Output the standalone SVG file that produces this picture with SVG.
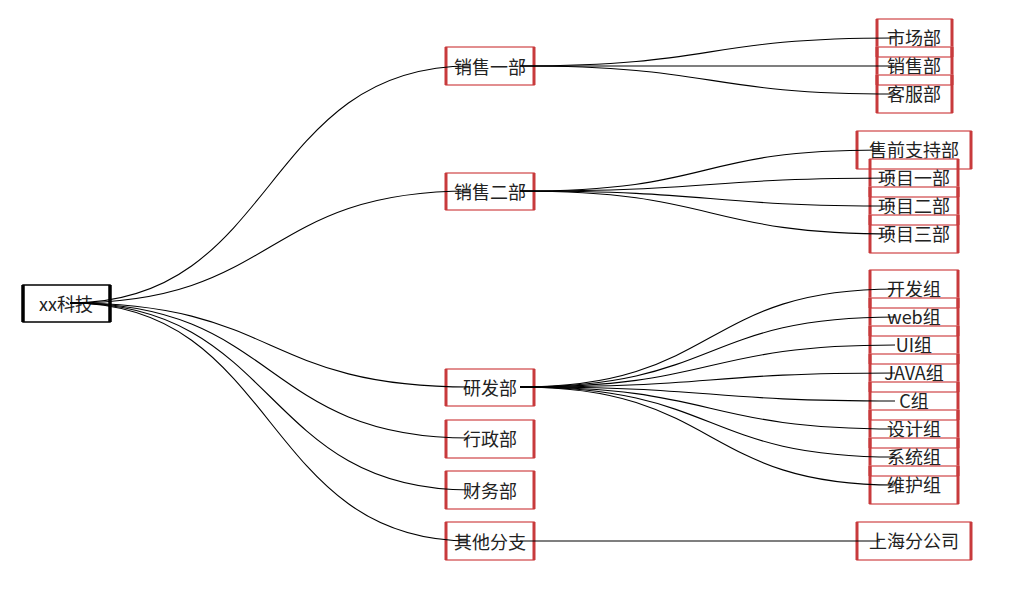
<svg xmlns="http://www.w3.org/2000/svg" width="1026" height="596" viewBox="0 0 1026 596">
<style>
.b{fill:none;stroke:#d9696b;stroke-width:1.5}
.s{stroke:#c83a3c;stroke-width:3}
.r{fill:none;stroke:#000;stroke-width:1.5}
.rs{stroke:#000;stroke-width:3.5}
text{font-family:"Noto Sans CJK SC","Noto Sans",sans-serif;font-size:18px;fill:#222;text-anchor:middle;dominant-baseline:central}
#links path{fill:none;stroke:#000;stroke-width:1.1}
</style>
<g id="root"><rect class="r" x="23" y="285" width="87" height="37"/><path class="rs" d="M23,285V322M110,285V322"/><text x="66" y="303">xx科技</text></g>
<g id="n1"><rect class="b" x="446" y="47" width="88" height="38"/><path class="s" d="M446,47V85M534,47V85"/><text x="490" y="66">销售一部</text></g>
<g id="n2"><rect class="b" x="446" y="173" width="88" height="37"/><path class="s" d="M446,173V210M534,173V210"/><text x="490" y="191">销售二部</text></g>
<g id="n3"><rect class="b" x="446" y="369" width="88" height="37"/><path class="s" d="M446,369V406M534,369V406"/><text x="490" y="387">研发部</text></g>
<g id="n4"><rect class="b" x="446" y="420" width="88" height="38"/><path class="s" d="M446,420V458M534,420V458"/><text x="490" y="438">行政部</text></g>
<g id="n5"><rect class="b" x="446" y="471" width="88" height="38"/><path class="s" d="M446,471V509M534,471V509"/><text x="490" y="490">财务部</text></g>
<g id="n6"><rect class="b" x="446" y="522" width="88" height="38"/><path class="s" d="M446,522V560M534,522V560"/><text x="490" y="541">其他分支</text></g>
<g id="l1"><rect class="b" x="877" y="19" width="75" height="38"/><path class="s" d="M877,19V57M952,19V57"/><text x="914" y="37">市场部</text></g>
<g id="l2"><rect class="b" x="877" y="47" width="75" height="38"/><path class="s" d="M877,47V85M952,47V85"/><text x="914" y="65">销售部</text></g>
<g id="l3"><rect class="b" x="877" y="75" width="75" height="38"/><path class="s" d="M877,75V113M952,75V113"/><text x="914" y="93">客服部</text></g>
<g id="l4"><rect class="b" x="857" y="131" width="114" height="38"/><path class="s" d="M857,131V169M971,131V169"/><text x="914" y="149">售前支持部</text></g>
<g id="l5"><rect class="b" x="870" y="159" width="88" height="38"/><path class="s" d="M870,159V197M958,159V197"/><text x="914" y="177">项目一部</text></g>
<g id="l6"><rect class="b" x="870" y="187" width="88" height="38"/><path class="s" d="M870,187V225M958,187V225"/><text x="914" y="205">项目二部</text></g>
<g id="l7"><rect class="b" x="870" y="215" width="88" height="38"/><path class="s" d="M870,215V253M958,215V253"/><text x="914" y="233">项目三部</text></g>
<g id="l8"><rect class="b" x="870" y="270" width="88" height="38"/><path class="s" d="M870,270V308M958,270V308"/><text x="914" y="288">开发组</text></g>
<g id="l9"><rect class="b" x="870" y="298" width="88" height="38"/><path class="s" d="M870,298V336M958,298V336"/><text x="914" y="316">web组</text></g>
<g id="l10"><rect class="b" x="870" y="326" width="88" height="38"/><path class="s" d="M870,326V364M958,326V364"/><text x="914" y="344">UI组</text></g>
<g id="l11"><rect class="b" x="870" y="354" width="88" height="38"/><path class="s" d="M870,354V392M958,354V392"/><text x="914" y="372">JAVA组</text></g>
<g id="l12"><rect class="b" x="870" y="382" width="88" height="38"/><path class="s" d="M870,382V420M958,382V420"/><text x="914" y="400">C组</text></g>
<g id="l13"><rect class="b" x="870" y="410" width="88" height="38"/><path class="s" d="M870,410V448M958,410V448"/><text x="914" y="428">设计组</text></g>
<g id="l14"><rect class="b" x="870" y="438" width="88" height="38"/><path class="s" d="M870,438V476M958,438V476"/><text x="914" y="456">系统组</text></g>
<g id="l15"><rect class="b" x="870" y="466" width="88" height="38"/><path class="s" d="M870,466V504M958,466V504"/><text x="914" y="484">维护组</text></g>
<g id="l16"><rect class="b" x="857" y="522" width="114" height="38"/><path class="s" d="M857,522V560M971,522V560"/><text x="914" y="540">上海分公司</text></g>
<g id="links">
<path d="M70,303 C280,303 260,66 470,66"/>
<path d="M70,303 C280,303 260,191 470,191"/>
<path d="M70,303 C280,303 260,387 470,387"/>
<path d="M70,303 C280,303 260,438 470,438"/>
<path d="M70,303 C280,303 260,490 470,490"/>
<path d="M70,303 C280,303 260,541 470,541"/>
<path d="M520,66 C720,66 700,38 895,38"/>
<path d="M520,66 C720,66 700,66 895,66"/>
<path d="M520,66 C720,66 700,94 895,94"/>
<path d="M520,191 C720,191 690,150 880,150"/>
<path d="M520,191 C720,191 700,178 895,178"/>
<path d="M520,191 C720,191 700,206 895,206"/>
<path d="M520,191 C720,191 700,234 895,234"/>
<path d="M520,387 C720,387 700,289 895,289"/>
<path d="M520,387 C720,387 700,317 895,317"/>
<path d="M520,387 C720,387 700,345 895,345"/>
<path d="M520,387 C720,387 700,373 895,373"/>
<path d="M520,387 C720,387 700,401 895,401"/>
<path d="M520,387 C720,387 700,429 895,429"/>
<path d="M520,387 C720,387 700,457 895,457"/>
<path d="M520,387 C720,387 700,485 895,485"/>
<path d="M520,541 C720,541 700,541 880,541"/>
</g>
</svg>
